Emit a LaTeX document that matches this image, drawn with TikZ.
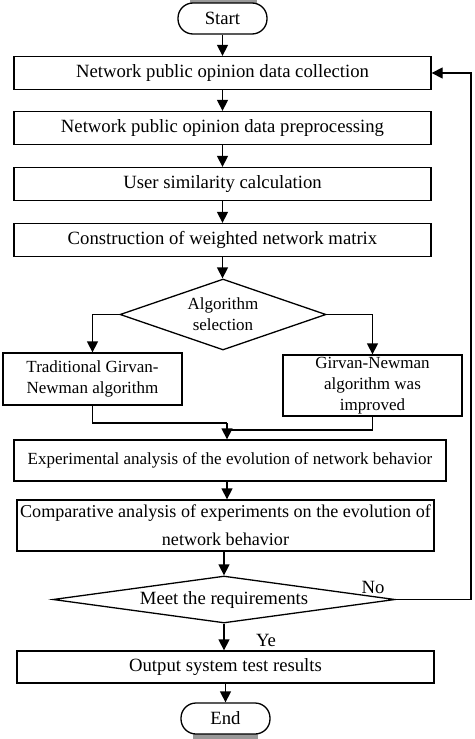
\documentclass[tikz,border=0pt]{standalone}
\usepackage{fontspec}
\setmainfont{Liberation Serif}
\usetikzlibrary{shapes.geometric,arrows.meta}

\begin{document}
\begin{tikzpicture}[x=1pt,y=-1pt, every node/.style={font=\fontsize{18.7}{21}\selectfont},
    small/.style={font=\fontsize{17}{21}\selectfont},
    box/.style={draw, line width=1.3pt, rectangle, inner sep=0pt, align=center},
    term/.style={draw, line width=1.3pt, rectangle, rounded corners=15pt, minimum width=89pt, minimum height=31pt, inner sep=0pt},
    decide/.style={draw, line width=1.3pt, diamond, inner sep=0pt, align=center},
    flow/.style={line width=1.3pt},
    arr/.style={line width=1.3pt, -{Triangle[length=11pt,width=11pt]}}]
    \useasboundingbox (0,0) rectangle (474,739);
    % shadows cut at the page edges
    \fill[gray!80] (190,0) rectangle (257,3);
    \fill[gray!80] (193,734) rectangle (258,739);
    \node[term] (start) at (222.5,18.5) {Start};
    \node[box, minimum width=417pt, minimum height=33pt] (b1) at (222.5,73) {Network public opinion data collection};
    \node[box, minimum width=417pt, minimum height=33pt] (b2) at (222.5,128) {Network public opinion data preprocessing};
    \node[box, minimum width=417pt, minimum height=33pt] (b3) at (222.5,184) {User similarity calculation};
    \node[box, minimum width=417pt, minimum height=33pt] (b4) at (222.5,240) {Construction of weighted network matrix};
    \node[decide, small, aspect=2.9, minimum width=206pt, minimum height=71pt] (d1) at (223,314.5) {Algorithm\\selection};
    \node[box, small, minimum width=179pt, minimum height=52pt] (tl) at (92.5,379) {Traditional Girvan-\\Newman algorithm};
    \node[box, small, minimum width=179pt, minimum height=61pt] (tr) at (372.5,385.5) {Girvan-Newman\\algorithm was\\improved};
    \node[box, small, minimum width=432pt, minimum height=41pt] (b5) at (230,460.5) {Experimental analysis of the evolution of network behavior};
    \node[box, font=\fontsize{18.1}{21}\selectfont, minimum width=417pt, minimum height=51pt] (b6) at (225.5,525.5) {Comparative analysis of experiments on the evolution of\\[7pt]network behavior};
    \node[decide, aspect=7.3, minimum width=342pt, minimum height=47pt] (d2) at (224,599.5) {Meet the requirements};
    \node[box, minimum width=417pt, minimum height=32pt] (b7) at (225.5,667) {Output system test results};
    \node[term] (end) at (225.5,718.5) {End};
    \node (no) at (373,587) {No};
    \node (ye) at (266,640) {Ye};
    \coordinate (jl) at (227,423);
    \coordinate (jr) at (227,430);
    \coordinate (loop) at (471,73);

    \draw[arr] (start) -- (b1);
    \draw[arr] (b1) -- (b2);
    \draw[arr] (b2) -- (b3);
    \draw[arr] (b3) -- (b4);
    \draw[arr] (b4.south) -- (b4.south |- d1.north);
    \draw[arr] (d1.west) -| (tl.north);
    \draw[arr] (d1.east) -| (tr.north);
    \draw[flow] (tl.south) |- (jl);
    \draw[flow] (tr.south) |- (jr);
    \draw[arr] (jl) -- (jl |- b5.north);
    \draw[arr] (b5.south -| jl) -- (b6.north -| jl);
    \draw[arr] (b6.south -| d2) -- (d2.north);
    \draw[arr] (d2.east) -| (loop) -- (b1.east);
    \draw[arr] (d2.south) -- (d2.south |- b7.north);
    \draw[arr] (b7) -- (end);
\end{tikzpicture}
\end{document}
